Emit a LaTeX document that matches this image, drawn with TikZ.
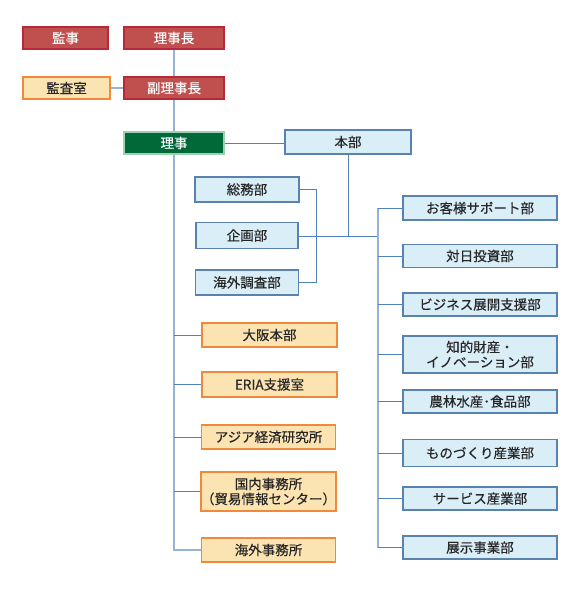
\documentclass[tikz,border=0pt]{standalone}
\usepackage{fontspec}
\setmainfont{Noto Sans CJK JP}[FakeBold=0.35]
\usetikzlibrary{backgrounds}
\definecolor{redfill}{HTML}{C0504D}
\definecolor{redline}{HTML}{B8283A}
\definecolor{greenfill}{HTML}{00693A}
\definecolor{greenline}{HTML}{9FD0B0}
\definecolor{bluefill}{HTML}{DAEEF8}
\definecolor{blueline}{HTML}{5A82AE}
\definecolor{orfill}{HTML}{FCE4B2}
\definecolor{orline}{HTML}{F0893A}
\definecolor{lightline}{HTML}{95B3D7}
\definecolor{darkline}{HTML}{4F81BD}
\tikzset{
  box/.style={inner sep=0pt, align=center, font=\fontsize{13.5}{15}\selectfont, line width=1.2pt},
  redbox/.style={box, fill=redfill, draw=redline, text=white},
  greenbox/.style={box, fill=greenfill, draw=greenline, text=white},
  bluebox/.style={box, fill=bluefill, draw=blueline, text=black!85},
  orbox/.style={box, fill=orfill, draw=orline, text=black!85},
  mainline/.style={draw=lightline, line width=2pt},
  conn/.style={draw=darkline, line width=1pt},
}
\begin{document}
\begin{tikzpicture}[x=1pt,y=-1pt]
\useasboundingbox (0,0) rectangle (580,600);
% top
\node[redbox, minimum width=85, minimum height=22] (kanji) at (65.5,38) {監事};
\node[redbox, minimum width=100, minimum height=22] (rijicho) at (174,38) {理事長};
\node[orbox, minimum width=87, minimum height=22] (kansa) at (66.5,88) {監査室};
\node[redbox, minimum width=100, minimum height=22] (fuku) at (174,88) {副理事長};
\node[greenbox, minimum width=100, minimum height=22] (riji) at (174,143) {理事};
\node[bluebox, minimum width=126, minimum height=24] (honbu) at (348,142) {本部};
% middle left
\node[bluebox, minimum width=104, minimum height=25] (somu) at (247,189.5) {総務部};
\node[bluebox, minimum width=102, minimum height=26] (kikaku) at (247,235.5) {企画部};
\node[bluebox, minimum width=103, minimum height=25] (chosa) at (247,282.5) {海外調査部};
% right column
\node[bluebox, minimum width=154, minimum height=24] (okyaku) at (480,208) {お客様サポート部};
\node[bluebox, minimum width=154, minimum height=23] (tainichi) at (480,256) {対日投資部};
\node[bluebox, minimum width=154, minimum height=23] (biz) at (480,304.5) {ビジネス展開支援部};
\node[bluebox, minimum width=154, minimum height=37] (chiteki) at (480,354.5) {知的財産・\\イノベーション部};
\node[bluebox, minimum width=154, minimum height=23] (norin) at (480,401.5) {農林水産･食品部};
\node[bluebox, minimum width=154, minimum height=27] (mono) at (480,453) {ものづくり産業部};
\node[bluebox, minimum width=154, minimum height=23] (service) at (480,498.5) {サービス産業部};
\node[bluebox, minimum width=154, minimum height=23] (tenji) at (480,547.5) {展示事業部};
% left column
\node[orbox, minimum width=135, minimum height=24] (osaka) at (269.5,335) {大阪本部};
\node[orbox, minimum width=135, minimum height=25] (eria) at (269.5,384.5) {ERIA支援室};
\node[orbox, minimum width=134, minimum height=24] (ajia) at (268.5,437) {アジア経済研究所};
\node[orbox, minimum width=134, minimum height=39] (kokunai) at (268.5,491.5) {国内事務所\\（貿易情報センター）};
\node[orbox, minimum width=134, minimum height=24] (kaigai) at (268.5,550) {海外事務所};
\coordinate (rj) at (378,236.5);
% connectors
\begin{scope}[on background layer]
\fill[white] (0,0) rectangle (580,600);
\draw[mainline] (rijicho.south) |- (kaigai.west);
\draw[mainline] (kansa.east) -- (fuku.west);
\draw[conn] (riji.east) -- (riji.east -| honbu.west);
\foreach \n in {osaka,eria,ajia,kokunai}
  \draw[conn] (\n.west) -- (\n.west -| rijicho.south);
\draw[conn] (honbu.south) -- (honbu.south |- rj);
\draw[conn] (kikaku.east |- rj) -- (rj);
\draw[conn] (somu.east) -- ++(17,0) |- (chosa.east);
\draw[mainline, line width=1.5pt] (okyaku.west -| rj) -- (tenji.west -| rj);
\foreach \n in {okyaku,tainichi,biz,chiteki,norin,mono,service,tenji}
  \draw[conn] (\n.west) -- (\n.west -| rj);
\end{scope}
\end{tikzpicture}
\end{document}
